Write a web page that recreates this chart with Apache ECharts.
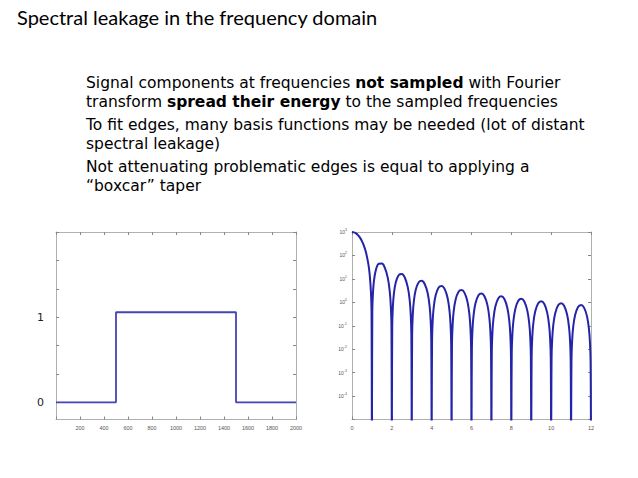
<!DOCTYPE html>
<html><head><meta charset="utf-8">
<script src="https://cdn.jsdelivr.net/npm/echarts@6/dist/echarts.min.js"></script>
<style>html,body{margin:0;padding:0;background:#fff}#c{width:638px;height:478px}</style>
</head><body><div id="c"></div>
<script>
// Left: boxcar taper in time
const boxX = [0, 500, 500, 1500, 1500, 2000];
const boxY = [0, 0, 1, 1, 0, 0];
const leftXTicks = [200, 400, 600, 800, 1000, 1200, 1400, 1600, 1800, 2000];
const leftYLabels = ['0', '1'];
// Right: power spectrum, log10 values, frequency x
const specX = [0,0.1,0.2,0.3,0.4,0.5,0.6,0.7,0.8,0.85,0.9,0.95,0.98,1,
1.02,1.05,1.1,1.2,1.35,1.5,1.65,1.8,1.9,1.95,1.98,2,
2.02,2.05,2.1,2.2,2.35,2.5,2.65,2.8,2.9,2.95,2.98,3,
3.02,3.05,3.1,3.2,3.35,3.5,3.65,3.8,3.9,3.95,3.98,4,
4.02,4.05,4.1,4.2,4.35,4.5,4.65,4.8,4.9,4.95,4.98,5,
5.02,5.05,5.1,5.2,5.35,5.5,5.65,5.8,5.9,5.95,5.98,6,
6.02,6.05,6.1,6.2,6.35,6.5,6.65,6.8,6.9,6.95,6.98,7,
7.02,7.05,7.1,7.2,7.35,7.5,7.65,7.8,7.9,7.95,7.98,8,
8.02,8.05,8.1,8.2,8.35,8.5,8.65,8.8,8.9,8.95,8.98,9,
9.02,9.05,9.1,9.2,9.35,9.5,9.65,9.8,9.9,9.95,9.98,10,
10.02,10.05,10.1,10.2,10.35,10.5,10.65,10.8,10.9,10.95,10.98,11,
11.02,11.05,11.1,11.2,11.35,11.5,11.65,11.8,11.9,11.95,11.98,12];
const specLog = [3.000,2.986,2.942,2.867,2.758,2.608,2.406,2.131,1.738,1.461,1.077,0.439,-0.381,-6,
-0.415,0.352,0.903,1.385,1.645,1.654,1.471,1.033,0.428,-0.185,-0.992,-6,
-1.009,-0.229,0.341,0.859,1.164,1.210,1.059,0.649,0.061,-0.545,-1.347,-6,
-1.358,-0.574,0.003,0.534,0.856,0.918,0.781,0.384,-0.196,-0.798,-1.598,-6,
-1.607,-0.820,-0.240,0.297,0.629,0.699,0.571,0.181,-0.395,-0.994,-1.793,-6,
-1.800,-1.012,-0.429,0.112,0.449,0.525,0.402,0.017,-0.556,-1.154,-1.952,-6,
-1.957,-1.169,-0.585,-0.041,0.300,0.380,0.260,-0.121,-0.692,-1.289,-2.086,-6,
-2.091,-1.302,-0.717,-0.171,0.173,0.256,0.138,-0.240,-0.809,-1.406,-2.202,-6,
-2.207,-1.417,-0.831,-0.284,0.062,0.147,0.032,-0.345,-0.913,-1.509,-2.305,-6,
-2.309,-1.518,-0.932,-0.384,-0.036,0.050,-0.063,-0.439,-1.005,-1.601,-2.396,-6,
-2.400,-1.610,-1.023,-0.473,-0.124,-0.037,-0.149,-0.523,-1.089,-1.684,-2.479,-6,
-2.483,-1.692,-1.105,-0.555,-0.204,-0.116,-0.227,-0.600,-1.165,-1.760,-2.555,-6];
const rightXTicks = [0, 2, 4, 6, 8, 10, 12];
const rightYExps = [-4, -3, -2, -1, 0, 1, 2, 3];

const titleText = 'Spectral leakage in the frequency domain';
const bodyLines = [
  'Signal components at frequencies {b|not sampled} with Fourier',
  'transform {b|spread their energy} to the sampled frequencies',
  'To fit edges, many basis functions may be needed (lot of distant',
  'spectral leakage)',
  'Not attenuating problematic edges is equal to applying a',
  '\u201cboxcar\u201d taper'
];
const bodyY = [83, 102, 125, 144, 167, 186];

const chart = echarts.init(document.getElementById('c'), null, {renderer: 'svg'});
const frame = '#b0b0b0', tickC = '#888', labC = '#555';
const bodyFont = 'DejaVu Sans', bodySize = 15.5;

const graphic = [{type: 'text', style: {x: 17, y: 17, text: titleText, font: '20px Lato', fill: '#000', verticalAlign: 'middle'}}];
bodyLines.forEach((t, i) => graphic.push({type: 'text', style: {x: 86, y: bodyY[i], text: t, fontFamily: bodyFont, fontSize: bodySize, fill: '#000', verticalAlign: 'middle',
  rich: {b: {fontFamily: bodyFont, fontSize: bodySize, fontWeight: 'bold', fill: '#000'}}}}));

const line = {onZero: false, lineStyle: {color: frame}};
const tick = {inside: true, length: 3, lineStyle: {color: tickC}};
const leftYTicks = [0, 0.315, 0.63, 0.945, 1.26, 1.575, 1.89];

chart.setOption({
  animation: false,
  graphic: graphic,
  grid: [
    {left: 56, top: 232, width: 240, height: 187.5},
    {left: 352, top: 232, width: 239, height: 187.5}
  ],
  xAxis: [
    {gridIndex: 0, type: 'value', min: 0, max: 2000, interval: 200, position: 'bottom',
      axisLine: line, axisTick: tick, splitLine: {show: false},
      axisLabel: {fontSize: 5.5, color: labC, margin: 5, formatter: v => leftXTicks.indexOf(v) >= 0 ? String(v) : ''}},
    {gridIndex: 0, type: 'value', min: 0, max: 2000, interval: 200, position: 'top',
      axisLine: line, axisTick: tick, splitLine: {show: false}, axisLabel: {show: false}},
    {gridIndex: 1, type: 'value', min: 0, max: 12, interval: 2, position: 'bottom',
      axisLine: line, axisTick: tick, splitLine: {show: false},
      axisLabel: {fontSize: 5.5, color: labC, margin: 5, formatter: v => rightXTicks.indexOf(v) >= 0 ? String(v) : ''}},
    {gridIndex: 1, type: 'value', min: 0, max: 12, interval: 2, position: 'top',
      axisLine: line, axisTick: tick, splitLine: {show: false}, axisLabel: {show: false}}
  ],
  yAxis: [
    {gridIndex: 0, type: 'value', min: -0.19, max: 1.89, position: 'left',
      axisLine: Object.assign({show: true}, line),
      axisTick: Object.assign({show: true, customValues: leftYTicks}, tick),
      splitLine: {show: false},
      axisLabel: {fontSize: 11, color: '#222', margin: 12, fontFamily: 'DejaVu Sans', customValues: [0, 0.945], formatter: v => v < 0.5 ? leftYLabels[0] : leftYLabels[1]}},
    {gridIndex: 0, type: 'value', min: -0.19, max: 1.89, position: 'right',
      axisLine: Object.assign({show: true}, line),
      axisTick: Object.assign({show: true, customValues: leftYTicks}, tick),
      splitLine: {show: false}, axisLabel: {show: false}},
    {gridIndex: 1, type: 'value', min: -5, max: 3, interval: 1, position: 'left',
      axisLine: Object.assign({show: true}, line),
      axisTick: Object.assign({show: true}, tick),
      splitLine: {show: false},
      axisLabel: {color: labC, margin: 5, formatter: v => rightYExps.indexOf(v) >= 0 ? '{b|10}{s|' + v + '}' : '',
        rich: {b: {fontSize: 5, color: labC}, s: {fontSize: 3.5, color: labC, padding: [0, 0, 4, 0]}}}},
    {gridIndex: 1, type: 'value', min: -5, max: 3, interval: 1, position: 'right',
      axisLine: Object.assign({show: true}, line),
      axisTick: Object.assign({show: true}, tick),
      splitLine: {show: false}, axisLabel: {show: false}}
  ],
  series: [
    {type: 'line', xAxisIndex: 0, yAxisIndex: 0, data: boxX.map((x, i) => [x, boxY[i]]),
      showSymbol: false, lineStyle: {color: '#4444b4', width: 1.8}},
    {type: 'line', xAxisIndex: 2, yAxisIndex: 2, data: specX.map((x, i) => [x, specLog[i]]),
      showSymbol: false, smooth: 0.4, clip: true, lineStyle: {color: '#2424a8', width: 2}}
  ]
});
</script></body></html>
